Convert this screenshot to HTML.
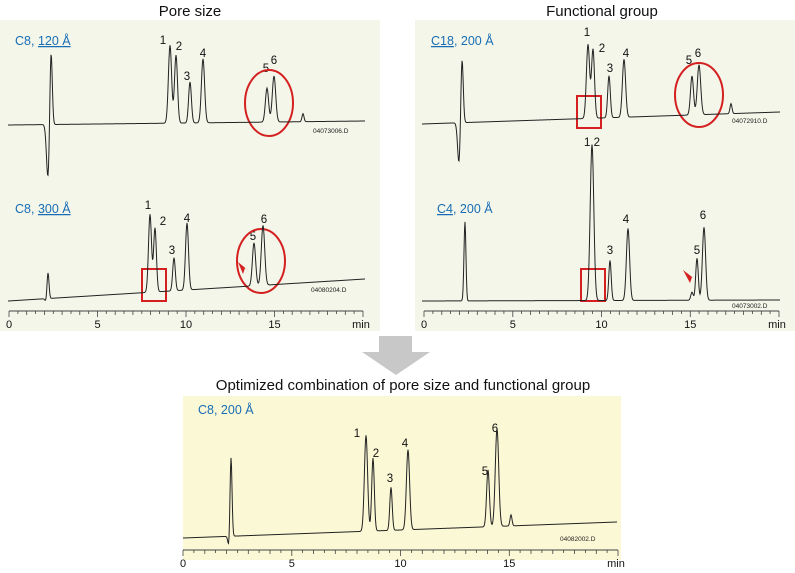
<!DOCTYPE html>
<html><head><meta charset="utf-8"><style>
body{margin:0;width:795px;height:573px;background:#fff;overflow:hidden;font-family:"Liberation Sans",sans-serif}
svg{position:absolute;left:0;top:0}
text{font-family:"Liberation Sans",sans-serif}
</style></head><body>
<svg id="s" width="795" height="573" viewBox="0 0 795 573">
<rect x="0" y="20" width="380" height="311" fill="#f3f6e9"/>
<rect x="415" y="20" width="380" height="311" fill="#f3f6e9"/>
<rect x="183" y="396" width="438" height="164" fill="#fbf8d6"/>
<text x="190" y="16" font-size="15" text-anchor="middle" fill="#111">Pore size</text>
<text x="602" y="16" font-size="15" text-anchor="middle" fill="#111">Functional group</text>
<text x="403" y="390" font-size="15" text-anchor="middle" fill="#111">Optimized combination of pore size and functional group</text>
<path d="M379 336H412V352H430L396 375L362 352H379Z" fill="#c8c8c8"/>
<g fill="#1a6db5" font-size="12.5">
<text x="15" y="45">C8, <tspan text-decoration="underline">120 Å</tspan></text>
<text x="15" y="213">C8, <tspan text-decoration="underline">300 Å</tspan></text>
<text x="431" y="45"><tspan text-decoration="underline">C18</tspan>, 200 Å</text>
<text x="437" y="213"><tspan text-decoration="underline">C4</tspan>, 200 Å</text>
<text x="198" y="414">C8, 200 Å</text>
</g>
<g fill="#222" font-size="6.5">
<text x="313" y="133">04073006.D</text>
<text x="311" y="292">04080204.D</text>
<text x="732" y="123">04072910.D</text>
<text x="732" y="308">04073002.D</text>
<text x="560" y="541">04082002.D</text>
</g>
<g fill="#111" font-size="11.5" text-anchor="middle">
<text x="163" y="44">1</text><text x="179" y="50">2</text><text x="187" y="80">3</text><text x="203" y="57">4</text><text x="266" y="72">5</text><text x="274" y="64">6</text>
<text x="148" y="209">1</text><text x="163" y="225">2</text><text x="172" y="254">3</text><text x="187" y="222">4</text><text x="253" y="240">5</text><text x="264" y="223">6</text>
<text x="587" y="36">1</text><text x="602" y="52">2</text><text x="610" y="72">3</text><text x="626" y="57">4</text><text x="689" y="64">5</text><text x="698" y="57">6</text>
<text x="592" y="146">1,2</text><text x="610" y="254">3</text><text x="626" y="223">4</text><text x="697" y="254">5</text><text x="703" y="219">6</text>
<text x="357" y="437">1</text><text x="376" y="457">2</text><text x="390" y="482">3</text><text x="405" y="447">4</text><text x="485" y="475">5</text><text x="495" y="432">6</text>
</g>
<g fill="none" stroke="#d42020" stroke-width="2">
<ellipse cx="269" cy="103" rx="24" ry="33"/>
<ellipse cx="261" cy="261" rx="24" ry="32"/>
<rect x="142" y="269" width="24" height="32"/>
<ellipse cx="699" cy="95" rx="24" ry="32"/>
<rect x="577" y="96" width="24" height="32"/>
<rect x="581" y="269" width="24" height="32"/>
</g>
<path d="M238 262L243 274L245 268L249 271Z" fill="#d42020"/>
<path d="M683 270L690 283L692 277L696 280Z" fill="#d42020"/>
<g id="g" stroke="#222" stroke-width="1" fill="none"></g>
<g id="t" fill="#111" font-size="11" text-anchor="middle"></g>
</svg>
<script>
var g=document.getElementById('g'),t=document.getElementById('t');
function P(d,w,c){var p=document.createElementNS('http://www.w3.org/2000/svg','path');p.setAttribute('d',d);if(w)p.setAttribute('stroke-width',w);if(c)p.setAttribute('stroke',c);g.appendChild(p);}
function T(x,y,s){var e=document.createElementNS('http://www.w3.org/2000/svg','text');e.setAttribute('x',x);e.setAttribute('y',y);e.textContent=s;t.appendChild(e);}
function trace(x0,x1,y0,y1,peaks){var d='';for(var x=x0;x<=x1;x+=0.5){var y=y0+(y1-y0)*(x-x0)/(x1-x0);for(var i=0;i<peaks.length;i++){var p=peaks[i],s=p[2]||1.6;y+=(p[1])*Math.exp(-(x-p[0])*(x-p[0])/(2*s*s));}d+=(d?'L':'M')+x+' '+y.toFixed(2);}P(d);}
function axis(x0,x1,y,lab){P('M'+x0+' '+y+'H'+x1,1,'#444');var n=40;for(var i=0;i<=n;i++){var x=x0+(x1-x0)*i/n;var h=i%10==0?6:(i%2==0?4:3);P('M'+x.toFixed(1)+' '+y+'v'+h,0.8,'#444');}for(var k=0;k<4;k++)T(x0+(x1-x0)*k/4,y+17,''+(k*5));T(x1-2,y+17,'min');}
trace(8,365,125,121,[[51,-77,1.2],[48,54,1.5],[170,-78,1.6],[176,-68,1.5],[190,-41,1.4],[203,-64,1.6],[267,-34,1.6],[274,-46,1.7],[303,-8,1]]);
trace(8,365,301,279,[[48,-26,1],[46,3,1],[150,-78,1.5],[155,-64,1.4],[174,-33,1.3],[187,-67,1.5],[254,-43,1.6],[263,-60,1.7]]);
axis(9,363,311);
trace(422,780,124,112,[[462,-66,1.2],[459,41,1.4],[588,-74,1.6],[593,-69,1.5],[609,-42,1.3],[624,-58,1.6],[692,-39,1.5],[699,-50,1.7],[731,-10,1]]);
trace(422,780,301,300,[[465,-82,1],[466,5,1],[592,-156,1.8],[610,-40,1.2],[628,-72,1.6],[692,-8,1.2],[697,-42,1.3],[704,-73,1.6]]);
axis(424,779,311);
trace(183,617,538,522,[[231,-80,1],[229,12,1],[366,-96,1.6],[373,-73,1.3],[391,-43,1.2],[408,-80,1.6],[488,-57,1.4],[497,-98,1.7],[511,-11,1]]);
axis(183,618,550);
</script>
</body></html>
